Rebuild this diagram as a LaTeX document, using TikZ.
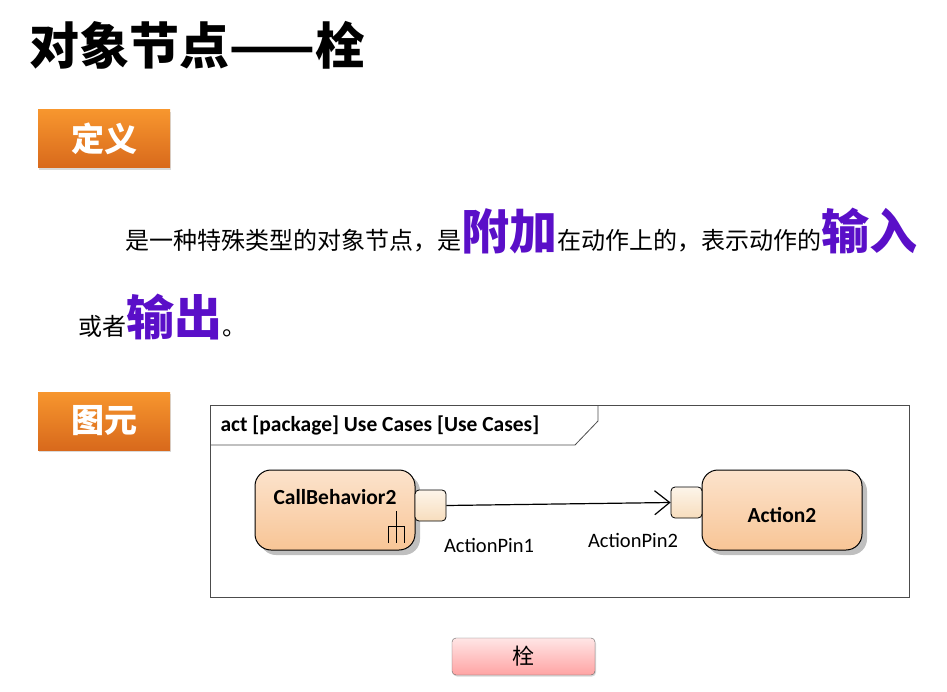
\documentclass[tikz,border=0pt]{standalone}
\usepackage{fontspec}
\setmainfont{Carlito}
\newfontfamily\cjk{Noto Sans CJK SC}
\usetikzlibrary{arrows.meta,shadows}
\definecolor{orgA}{HTML}{F7962E}
\definecolor{orgB}{HTML}{D8691C}
\definecolor{purp}{HTML}{5A0FC8}
\definecolor{peachT}{HTML}{FCE3CC}
\definecolor{peachB}{HTML}{F8C596}
\definecolor{pinT}{HTML}{FDF5EA}
\definecolor{pinB}{HTML}{F7DDBD}
\tikzset{
  hdr/.style={draw=none,top color=orgA,bottom color=orgB,minimum width=132pt,minimum height=58pt,
     text=white,font=\cjk\bfseries\fontsize{33}{33}\selectfont,drop shadow={shadow xshift=1pt,shadow yshift=-2pt,opacity=0.3}},
  act/.style={draw=black,line width=1pt,rounded corners=16pt,top color=peachT,bottom color=peachB,
     minimum width=160pt,minimum height=80pt,drop shadow={shadow xshift=5pt,shadow yshift=-5pt,fill=black!25,opacity=1}},
  pin/.style={draw=black,line width=0.8pt,rounded corners=4pt,top color=pinT,bottom color=pinB,minimum size=31pt,inner sep=0pt},
  lbl/.style={font=\fontsize{20.5}{20.5}\selectfont},
  bold/.style={font=\bfseries\fontsize{21.5}{21.5}\selectfont},
}
\begin{document}
\begin{tikzpicture}[x=1pt,y=-1pt]
\useasboundingbox (0,0) rectangle (947,692);
\node[anchor=west,inner sep=0pt,font=\cjk\bfseries\fontsize{50}{50}\selectfont] (title) at (29,45) {对象节点——栓};
\node[hdr] (def) at (104,139) {定义};
\node[hdr] (tuyuan) at (104,421) {图元};
\node[anchor=base west,inner sep=0pt,font=\cjk\fontsize{24}{24}\selectfont] (l1) at (125,250)
  {是一种特殊类型的对象节点，是{\bfseries\fontsize{48}{48}\selectfont\color{purp}附加}在动作上的，表示动作的{\bfseries\fontsize{48}{48}\selectfont\color{purp}输入}};
\node[anchor=base west,inner sep=0pt,font=\cjk\fontsize{24}{24}\selectfont] (l2) at (78,335)
  {或者{\bfseries\fontsize{48}{48}\selectfont\color{purp}输出}。};
% frame
\draw[draw=black!70,line width=0.8pt] (210,405) rectangle (909,597);
\draw[draw=black!70,line width=0.8pt] (210,445) -- (575,445) -- (598,421) -- (598,405);
\node[anchor=west,bold] (frm) at (217,425) {act [package] Use Cases [Use Cases]};
% actions
\node[act] (cb) at (335,510) {};
\node[bold] (cbt) at (335,497) {CallBehavior2};
\node[act] (a2) at (782,510) {};
\node[bold] (a2t) at (782,515) {Action2};
\node[pin] (p1) at (430.5,505.5) {};
\node[pin] (p2) at (686.5,502.5) {};
\draw[line width=1.2pt,-{Straight Barb[length=15pt,width=24pt,line width=1.2pt]}] (p1.east) -- (p2.west);
\node[lbl] (p1l) at (489,545) {ActionPin1};
\node[lbl] (p2l) at (633,540) {ActionPin2};
% trident
\draw[line width=1pt] (396,511) -- (396,543) (388,543) -- (388,526) -- (404,526) -- (404,543);
% button
\node[draw=black!60,rounded corners=4pt,top color=red!10,bottom color=red!35!pink!70,minimum width=143pt,minimum height=37pt,
  font=\cjk\fontsize{22}{22}\selectfont,drop shadow={shadow xshift=1pt,shadow yshift=-1.5pt,opacity=0.3}] (btn) at (523.5,656.5) {栓};
\end{tikzpicture}
\end{document}
